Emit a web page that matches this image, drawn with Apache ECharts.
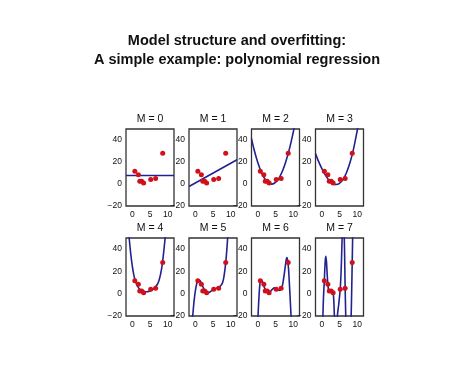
<!DOCTYPE html>
<html><head><meta charset="utf-8">
<script src="https://cdn.jsdelivr.net/npm/echarts@6/dist/echarts.min.js"></script>
<style>html,body{margin:0;padding:0;background:#fff}#c{width:474px;height:366px}</style>
</head><body><div id="c"></div>
<script>
// Model orders shown in the panels
const orders = [0, 1, 2, 3, 4, 5, 6, 7];
// Observed data points (same in every panel)
const dataX = [0.7, 1.7, 2.1, 2.65, 3.2, 5.2, 6.6, 8.6];
const dataY = [11.7, 8.5, 2.5, 2.5, 0.8, 4.0, 5.0, 28.0];
// Tick labels
const xTicks = [0, 5, 10];
const yTicks = [-20, 0, 20, 40];
// Fitted curves
const fit0X = [-1.8, 11.8];
const fit0Y = [7.7, 7.7];
const fit1X = [-1.8, 11.8];
const fit1Y = [-2.3, 22.0];
const fit2X = [-1.8, -1, 0, 1, 2, 3, 4, 5, 6, 7, 8, 9, 10, 10.3];
const fit2Y = [41.2, 30.4, 19.3, 10.6, 4.5, 0.9, -0.1, 1.4, 5.4, 12.0, 21.2, 32.6, 46.6, 51.4];
const fit3X = [-1.8, -1, 0, 1, 2, 3, 4, 5, 6, 7, 8, 9, 10, 10.3];
const fit3Y = [27.6, 21.0, 14.0, 8.0, 3.5, 0.5, -0.5, 0.6, 4.2, 10.5, 19.7, 32.2, 48.2, 53.5];
const fit4X = [-1.1, -0.9, -0.5, 0, 0.5, 1, 1.5, 2, 2.5, 3, 4, 5, 6, 7, 7.5, 8, 8.5, 9, 9.3, 9.45];
const fit4Y = [57, 50, 37, 24.5, 15.5, 10, 6.5, 4.3, 3, 2.3, 1.8, 2.5, 4.3, 8, 11.5, 17.5, 27, 41, 50.5, 56];
const fit5X = [-0.85, -0.75, -0.5, -0.25, 0, 0.25, 0.5, 0.9, 1.3, 1.7, 2.1, 2.6, 3.1, 3.6, 4.2, 5, 6, 7, 7.6, 8, 8.4, 8.7, 9, 9.2];
const fit5Y = [-26, -20, -11, -3.5, 2.5, 7, 10, 12.3, 11.8, 9.5, 6.5, 3.2, 1.2, 0.8, 1.8, 3.6, 5.0, 6.6, 9, 13.5, 22, 31, 43, 53];
const fit6X = [-0.05, 0.05, 0.2, 0.35, 0.5, 0.7, 0.9, 1.2, 1.6, 2.0, 2.5, 3.0, 3.5, 4.0, 4.7, 5.3, 5.8, 6.2, 6.6, 7.0, 7.5, 7.9, 8.2, 8.45, 8.7, 9.0, 9.2, 9.4, 9.5];
const fit6Y = [-30, -20, -10, -1, 6, 11, 12.5, 11.5, 8, 4.5, 2.2, 1.3, 2, 3.6, 5.2, 4.5, 3.2, 3, 4.5, 8, 18, 27.5, 32.5, 30, 22, 5, -7, -20, -27];
const fit7X = [0.2, 0.3, 0.45, 0.7, 0.9, 1.1, 1.3, 1.5, 1.7, 1.9, 2.1, 2.35, 2.65, 2.95, 3.2, 3.4, 3.55, 3.9, 4.15, 4.4, 4.8, 5.2, 5.5, 5.75, 6.05, 6.35, 6.6, 6.85, 7.1, 7.6, 8.0, 8.3, 8.45, 8.6, 8.72, 8.8];
const fit7Y = [-30, -20, -4, 11.7, 26, 33.5, 29, 18, 8.5, 3.5, 2.5, 3.2, 2.5, 2, 0.8, -7, -20, -40, -40, -20, -9, 4, 24, 50, 68, 50, 5, -30, -55, -70, -50, -20, 2, 28, 50, 70];

const fitsX = [fit0X, fit1X, fit2X, fit3X, fit4X, fit5X, fit6X, fit7X];
const fitsY = [fit0Y, fit1Y, fit2Y, fit3Y, fit4Y, fit5Y, fit6Y, fit7Y];

const FONT = 'Liberation Sans';
const colLeft = [126, 189, 251.5, 315.5];
const rowTop = [129, 238];
const rowH = [77, 78];
const W = 48;

const grids = [], xAxes = [], yAxes = [], series = [], titles = [];
titles.push({
  text: 'Model structure and overfitting:\nA simple example: polynomial regression',
  left: 237, top: 31, textAlign: 'center', padding: 0,
  textStyle: { fontFamily: FONT, fontSize: 14.5, fontWeight: 'bold', color: '#111', lineHeight: 19 }
});
const minus = v => (v < 0 ? '\u2212' + Math.abs(v) : String(v));

orders.forEach((m, i) => {
  const r = Math.floor(i / 4), c = i % 4;
  grids.push({ left: colLeft[c], top: rowTop[r], width: W, height: rowH[r], show: true,
    borderColor: '#333', borderWidth: 1.3, backgroundColor: '#fff' });
  xAxes.push({ type: 'value', gridIndex: i, min: -1.8, max: 11.8,
    axisLine: { show: false }, splitLine: { show: false }, axisTick: { show: false },
    axisLabel: { customValues: xTicks, fontSize: 8.5, color: '#111', margin: 4, fontFamily: FONT, formatter: minus } });
  yAxes.push({ type: 'value', gridIndex: i, min: -20, max: 50,
    axisLine: { show: false }, splitLine: { show: false }, axisTick: { show: false },
    axisLabel: { customValues: yTicks, fontSize: 8.5, color: '#111', margin: 4, fontFamily: FONT, formatter: minus } });
  titles.push({ text: 'M = ' + m, left: colLeft[c] + W / 2, top: rowTop[r] - 15, textAlign: 'center', padding: 0,
    textStyle: { fontFamily: FONT, fontSize: 10.5, fontWeight: 'normal', color: '#111' } });
  series.push({ type: 'line', xAxisIndex: i, yAxisIndex: i,
    data: fitsX[i].map((x, k) => [x, fitsY[i][k]]),
    showSymbol: false, smooth: 0.35, clip: true, silent: true,
    lineStyle: { color: '#22228f', width: 1.6 }, z: 2 });
  series.push({ type: 'scatter', xAxisIndex: i, yAxisIndex: i,
    data: dataX.map((x, k) => [x, dataY[k]]),
    symbolSize: 5, itemStyle: { color: '#d0101a', opacity: 1 }, z: 3, clip: true });
});

const chart = echarts.init(document.getElementById('c'));
chart.setOption({ animation: false, backgroundColor: '#fff', title: titles, grid: grids, xAxis: xAxes, yAxis: yAxes, series: series });
</script></body></html>
